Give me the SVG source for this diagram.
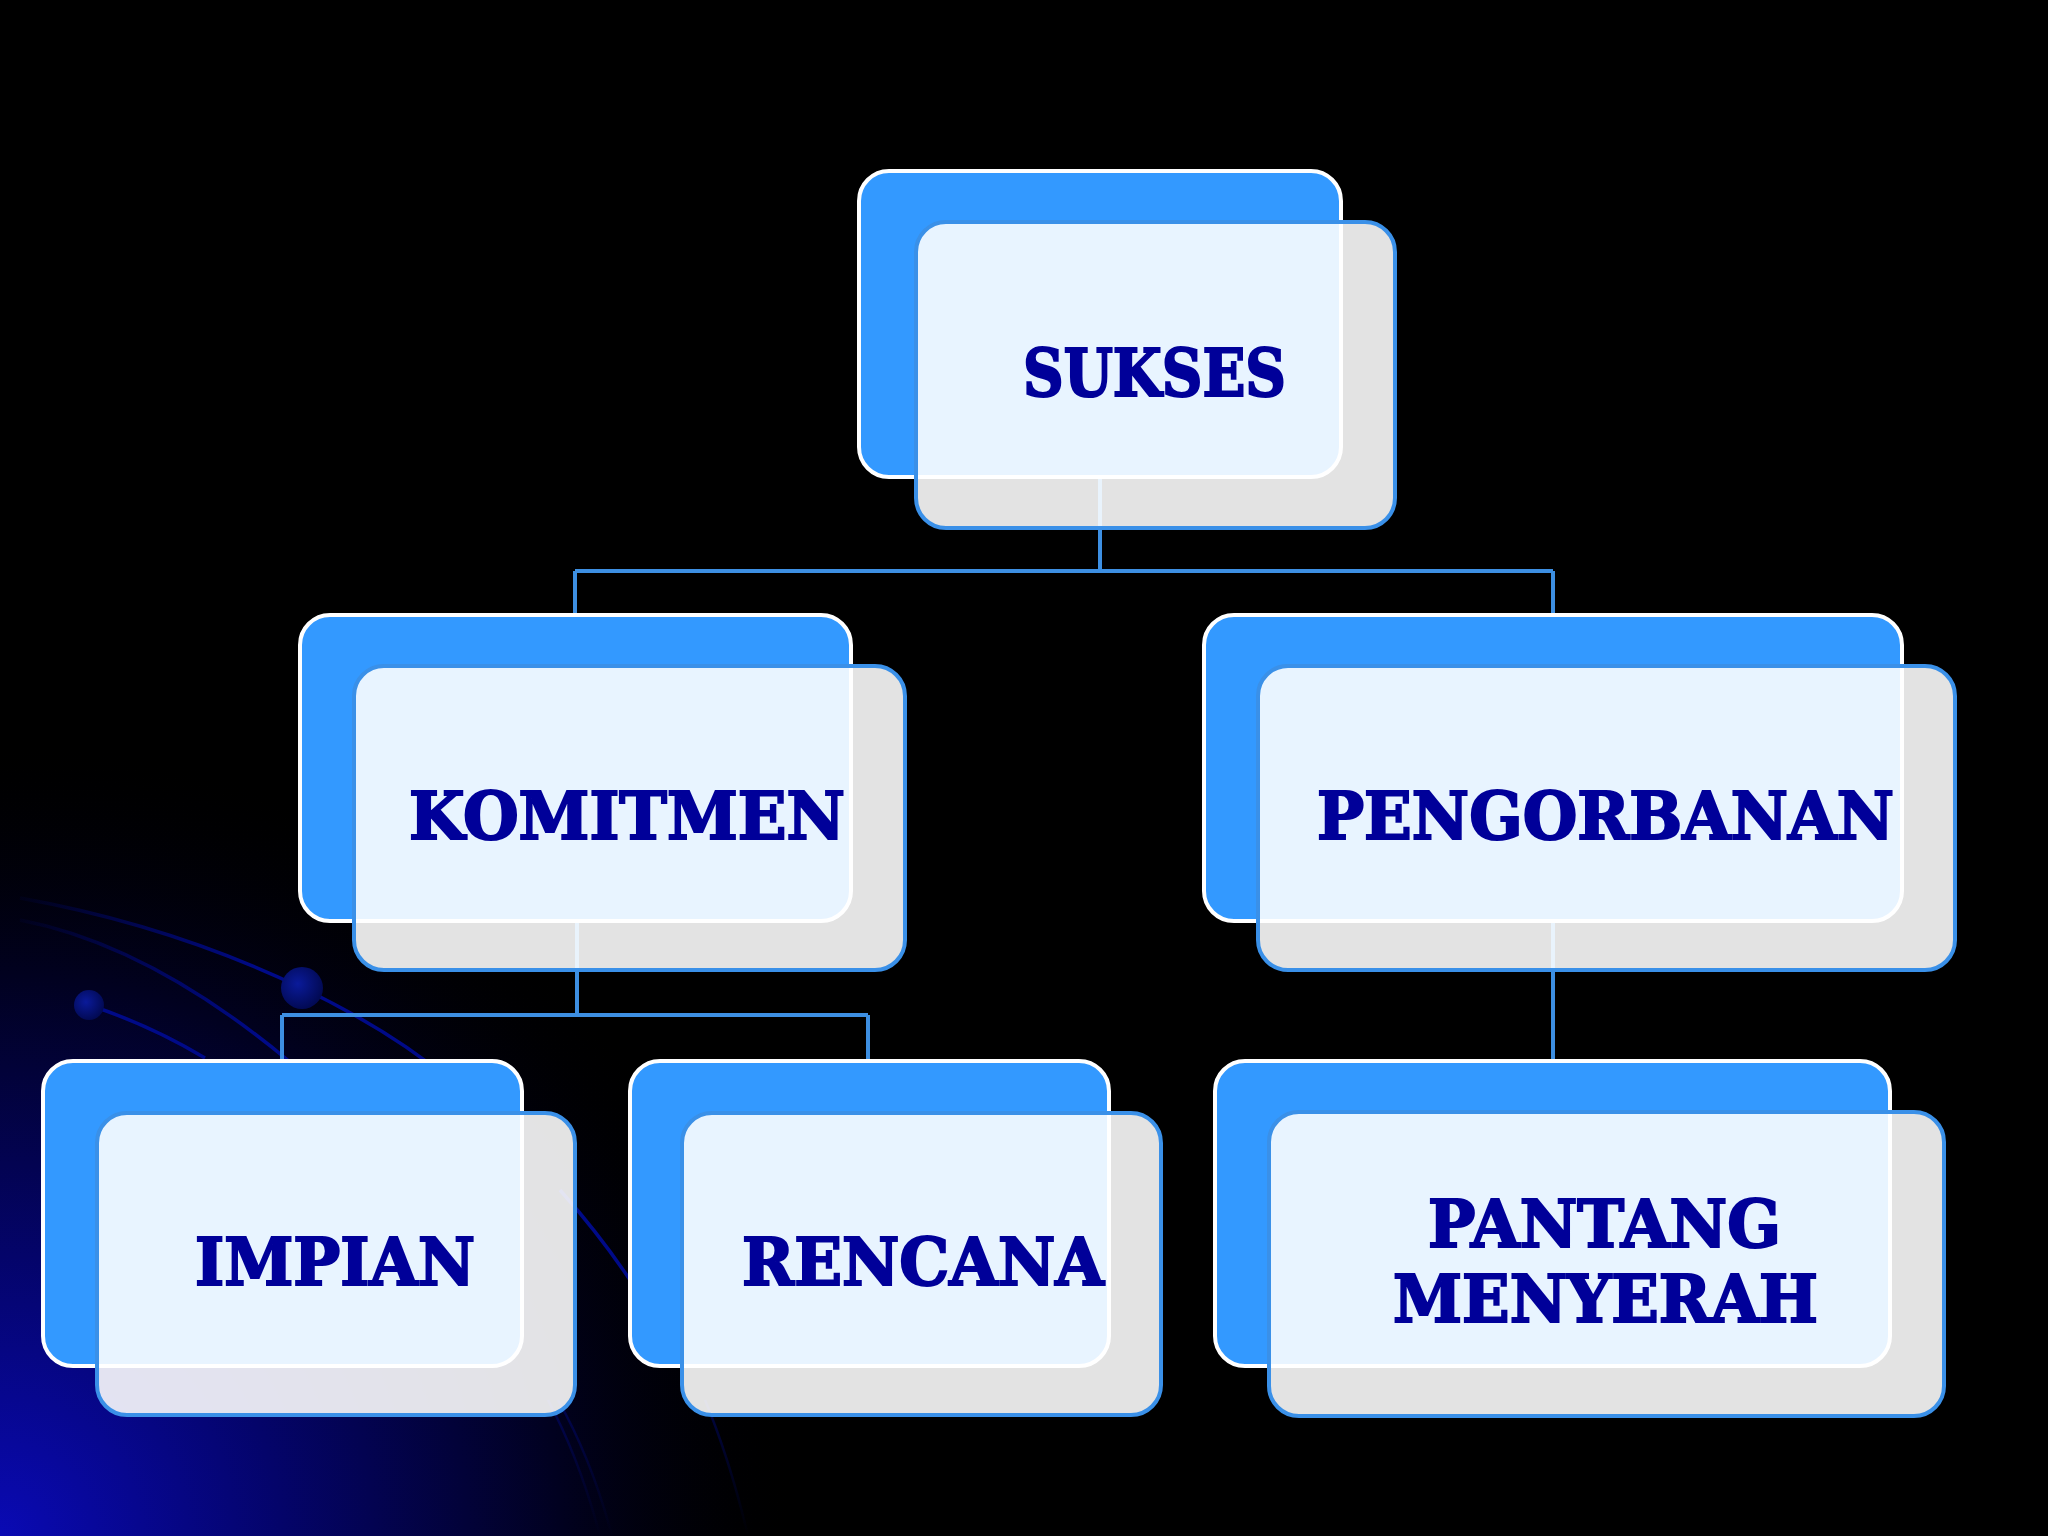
<svg xmlns="http://www.w3.org/2000/svg" width="2048" height="1536" viewBox="0 0 2048 1536">
  <defs>
    <radialGradient id="glow" cx="0" cy="1536" r="800" gradientUnits="userSpaceOnUse">
      <stop offset="0" stop-color="#0A0AB4"/>
      <stop offset="0.35" stop-color="#04046A"/>
      <stop offset="0.7" stop-color="#010120"/>
      <stop offset="1" stop-color="#000000" stop-opacity="0"/>
    </radialGradient>
    <radialGradient id="dot" cx="0.4" cy="0.4" r="0.6">
      <stop offset="0" stop-color="#0A1A9A"/>
      <stop offset="1" stop-color="#020A55"/>
    </radialGradient>
    <linearGradient id="fadeIn" x1="0" y1="0" x2="260" y2="0" gradientUnits="userSpaceOnUse">
      <stop offset="0" stop-color="#000A88" stop-opacity="0"/>
      <stop offset="1" stop-color="#000A88" stop-opacity="1"/>
    </linearGradient>
    <linearGradient id="fadeOut" x1="0" y1="1380" x2="0" y2="1536" gradientUnits="userSpaceOnUse">
      <stop offset="0" stop-color="#000A88" stop-opacity="0.55"/>
      <stop offset="1" stop-color="#000A88" stop-opacity="0"/>
    </linearGradient>
    <style>
      .back { fill: #3399FF; stroke: #FFFFFF; stroke-width: 4; }
      .front { fill: #FFFFFF; fill-opacity: 0.89; stroke: #3A90E8; stroke-width: 4; }
      .label { font-family: "DejaVu Serif", "Liberation Serif", serif; font-weight: bold; font-size: 66px; fill: #000099; stroke: #000099; stroke-width: 2.2; }
      .conn { fill: none; stroke: #3D8FE2; stroke-width: 4; }
      .curve { fill: none; stroke: url(#fadeIn); stroke-width: 3.5; }
      .curve2 { fill: none; stroke: #000A88; stroke-width: 3.5; }
      .curve3 { fill: none; stroke: url(#fadeOut); stroke-width: 2.5; }
    </style>
  </defs>

  <g id="background">
    <rect x="0" y="0" width="2048" height="1536" fill="#000000"/>
    <rect x="0" y="700" width="900" height="836" fill="url(#glow)"/>
    <path class="curve" d="M 20 898 Q 170 925 302 988"/>
    <path class="curve2" d="M 302 988 Q 390 1030 450 1080"/>
    <path class="curve2" d="M 560 1190 Q 600 1235 630 1280"/>
    <path class="curve" d="M 20 920 Q 150 945 290 1062"/>
    <path class="curve2" d="M 89 1005 Q 150 1025 205 1058"/>
    <path class="curve3" d="M 548 1400 Q 580 1460 600 1536"/>
    <path class="curve3" d="M 558 1400 Q 592 1460 612 1536"/>
    <path class="curve3" d="M 705 1400 Q 730 1460 748 1536"/>
    <circle cx="89" cy="1005" r="15" fill="url(#dot)"/>
    <circle cx="302" cy="988" r="21" fill="url(#dot)"/>
  </g>

  <g id="connectors">
    <path class="conn" d="M 1100 477 V 571 M 575 571 H 1553 M 575 571 V 615 M 1553 571 V 615"/>
    <path class="conn" d="M 577 921 V 1015 M 282 1015 H 868 M 282 1015 V 1061 M 868 1015 V 1061"/>
    <path class="conn" d="M 1553 921 V 1061"/>
  </g>

  <g id="node-sukses">
    <rect class="back" x="859" y="171" width="482" height="306" rx="30"/>
    <rect class="front" x="916" y="222" width="479" height="306" rx="30"/>
    <text class="label" x="1023" y="396" textLength="263" lengthAdjust="spacingAndGlyphs">SUKSES</text>
  </g>

  <g id="node-komitmen">
    <rect class="back" x="300" y="615" width="551" height="306" rx="30"/>
    <rect class="front" x="354" y="666" width="551" height="304" rx="30"/>
    <text class="label" x="409" y="839" textLength="436" lengthAdjust="spacingAndGlyphs">KOMITMEN</text>
  </g>

  <g id="node-pengorbanan">
    <rect class="back" x="1204" y="615" width="698" height="306" rx="30"/>
    <rect class="front" x="1258" y="666" width="697" height="304" rx="30"/>
    <text class="label" x="1317" y="839" textLength="577" lengthAdjust="spacingAndGlyphs">PENGORBANAN</text>
  </g>

  <g id="node-impian">
    <rect class="back" x="43" y="1061" width="479" height="305" rx="30"/>
    <rect class="front" x="97" y="1113" width="478" height="302" rx="30"/>
    <text class="label" x="195" y="1285" textLength="280" lengthAdjust="spacingAndGlyphs">IMPIAN</text>
  </g>

  <g id="node-rencana">
    <rect class="back" x="630" y="1061" width="479" height="305" rx="30"/>
    <rect class="front" x="682" y="1113" width="479" height="302" rx="30"/>
    <text class="label" x="742" y="1285" textLength="362" lengthAdjust="spacingAndGlyphs">RENCANA</text>
  </g>

  <g id="node-pantang-menyerah">
    <rect class="back" x="1215" y="1061" width="675" height="305" rx="30"/>
    <rect class="front" x="1269" y="1112" width="675" height="304" rx="30"/>
    <text class="label" x="1428" y="1247" textLength="353" lengthAdjust="spacingAndGlyphs">PANTANG</text>
    <text class="label" x="1393" y="1322" textLength="425" lengthAdjust="spacingAndGlyphs">MENYERAH</text>
  </g>
</svg>
